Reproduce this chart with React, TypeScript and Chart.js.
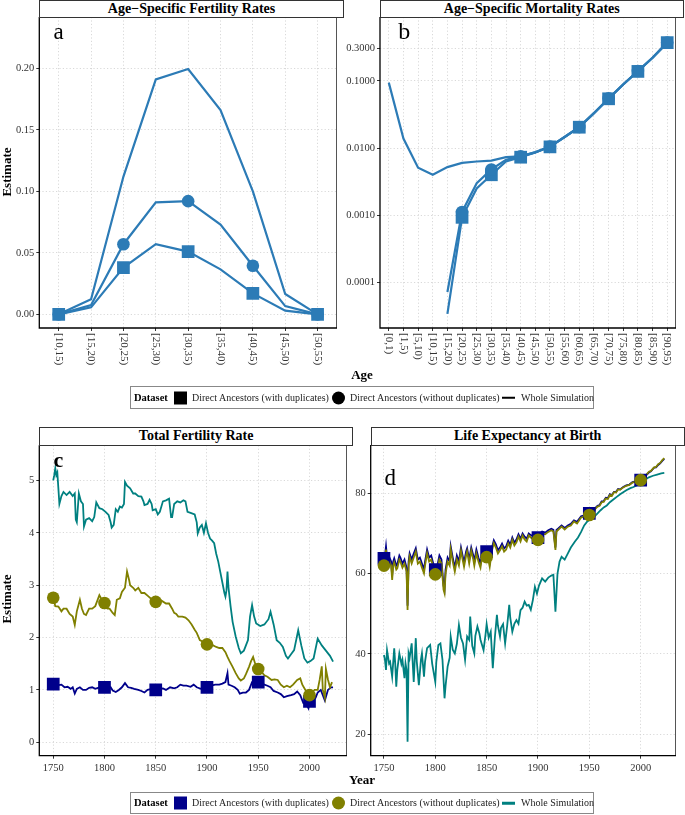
import { useEffect, useRef } from 'react';
import { Chart, registerables } from 'chart.js';

Chart.register(...registerables);

const SERIF = "'Liberation Serif', 'DejaVu Serif', serif";
const BLUE = '#2c7bb6';
const NAVY = '#00008b';
const OLIVE = '#808000';
const TEAL = '#008080';

// a: age-specific fertility rates
const fertAges = ['[10,15)', '[15,20)', '[20,25)', '[25,30)', '[30,35)', '[35,40)', '[40,45)', '[45,50)', '[50,55)'];
const asfrWithDup = [0, 0.0057, 0.038, 0.057, 0.051, 0.0366, 0.017, 0.003, 0];
const asfrNoDup = [0, 0.0075, 0.057, 0.091, 0.092, 0.073, 0.0395, 0.0067, 0];
const asfrWhole = [0, 0.0122, 0.112, 0.191, 0.1994, 0.166, 0.1, 0.0165, 0];
const asfrTicks = [0, 0.05, 0.1, 0.15, 0.2];

// b: age-specific mortality rates
const mortAges = ['[0,1)', '[1,5)', '[5,10)', '[10,15)', '[15,20)', '[20,25)', '[25,30)', '[30,35)', '[35,40)', '[40,45)',
  '[45,50)', '[50,55)', '[55,60)', '[60,65)', '[65,70)', '[70,75)', '[75,80)', '[80,85)', '[85,90)', '[90,95)'];
const asmrWithDup = [null, null, null, null, 0.000034, 0.00093, 0.0025, 0.004, 0.0063, 0.0073,
  0.0086, 0.0104, 0.0146, 0.0204, 0.033, 0.054, 0.088, 0.138, 0.22, 0.37];
const asmrNoDup = [null, null, null, null, 0.000072, 0.00112, 0.003, 0.0048, 0.0067, 0.0075,
  0.0087, 0.0105, 0.0146, 0.0206, 0.033, 0.055, 0.089, 0.14, 0.22, 0.37];
const asmrWhole = [0.094, 0.0138, 0.0051, 0.004, 0.0052, 0.006, 0.0063, 0.0065, 0.0073, 0.0075,
  0.0086, 0.0105, 0.0146, 0.0205, 0.033, 0.054, 0.088, 0.14, 0.22, 0.37];
const asmrTicks = [0.0001, 0.001, 0.01, 0.1, 0.3];

// c: total fertility rate [year, value]
const tfrWithDup: [number, number][] = [
  [1750, 1.11], [1753, 1.08], [1755, 1.09], [1758, 1.1], [1761, 1.05], [1764, 1.06], [1767, 1.02], [1769, 1.05],
  [1771, 0.93], [1773, 1.02], [1776, 1.05], [1779, 1.0], [1782, 1.0], [1785, 1.04], [1788, 1.05], [1791, 1.02],
  [1795, 1.05], [1798, 1.06], [1800, 1.05], [1803, 1.02], [1806, 1.05], [1808, 0.99], [1811, 0.96], [1814, 1.0],
  [1817, 1.05], [1820, 1.13], [1823, 1.05], [1826, 1.04], [1829, 1.02], [1833, 1.0], [1836, 0.98], [1839, 0.95],
  [1842, 1.0], [1846, 1.02], [1850, 1.0], [1853, 1.02], [1857, 1.03], [1860, 1.0], [1864, 1.05], [1868, 1.03],
  [1871, 1.05], [1874, 1.1], [1877, 1.08], [1880, 1.08], [1884, 1.06], [1887, 1.1], [1890, 1.05], [1894, 1.02],
  [1897, 1.05], [1900, 1.05], [1904, 1.08], [1908, 1.1], [1912, 1.1], [1915, 1.12], [1918, 1.15], [1920, 1.32],
  [1921, 1.1], [1924, 1.08], [1927, 1.05], [1930, 1.0], [1932, 0.93], [1935, 0.95], [1938, 0.95], [1941, 1.0],
  [1944, 1.15], [1947, 1.2], [1950, 1.15], [1953, 1.12], [1956, 1.1], [1959, 1.08], [1962, 1.05], [1965, 0.98],
  [1969, 0.95], [1972, 0.92], [1975, 0.86], [1978, 0.88], [1982, 0.9], [1985, 0.92], [1988, 0.97], [1991, 0.9],
  [1994, 0.75], [1997, 0.72], [1999, 0.65], [2000, 0.78], [2003, 0.8], [2006, 0.85], [2008, 0.95], [2011, 1.0],
  [2013, 0.9], [2015, 0.8], [2018, 1.0], [2021, 1.05], [2023, 1.05],
];
const tfrNoDup: [number, number][] = [
  [1750, 2.76], [1752, 2.6], [1755, 2.59], [1758, 2.5], [1760, 2.55], [1763, 2.55], [1766, 2.45], [1769, 2.4],
  [1771, 2.24], [1773, 2.5], [1776, 2.72], [1778, 2.55], [1780, 2.45], [1782, 2.43], [1785, 2.55], [1788, 2.55],
  [1791, 2.6], [1795, 2.81], [1798, 2.7], [1800, 2.66], [1803, 2.55], [1805, 2.55], [1808, 2.47], [1810, 2.43],
  [1812, 2.72], [1815, 2.75], [1817, 2.87], [1820, 2.95], [1822, 3.26], [1824, 3.1], [1825, 3.0], [1828, 2.95],
  [1830, 2.9], [1833, 2.95], [1836, 2.85], [1839, 2.85], [1842, 2.8], [1845, 2.75], [1848, 2.65], [1850, 2.68],
  [1853, 2.72], [1856, 2.7], [1860, 2.65], [1863, 2.65], [1866, 2.55], [1868, 2.47], [1870, 2.45], [1872, 2.4],
  [1876, 2.4], [1879, 2.38], [1882, 2.33], [1885, 2.25], [1888, 2.15], [1890, 2.09], [1893, 1.95], [1896, 1.92],
  [1900, 1.87], [1903, 1.85], [1906, 1.85], [1909, 1.82], [1912, 1.8], [1915, 1.8], [1918, 1.72], [1920, 1.63],
  [1922, 1.55], [1925, 1.44], [1928, 1.32], [1931, 1.22], [1933, 1.18], [1936, 1.22], [1938, 1.3], [1941, 1.44],
  [1943, 1.55], [1945, 1.63], [1947, 1.5], [1950, 1.4], [1953, 1.35], [1956, 1.28], [1959, 1.25], [1963, 1.19],
  [1966, 1.2], [1969, 1.19], [1972, 1.1], [1975, 1.05], [1978, 1.08], [1981, 1.05], [1984, 1.1], [1988, 1.19],
  [1991, 1.22], [1993, 1.1], [1996, 1.0], [1998, 0.95], [2000, 0.9], [2002, 0.95], [2005, 1.0], [2008, 1.0],
  [2010, 1.2], [2012, 1.45], [2013, 1.0], [2015, 0.85], [2016, 1.4], [2018, 1.2], [2020, 1.05], [2022, 1.15],
];
const tfrWhole: [number, number][] = [
  [1750, 5.0], [1751, 5.1], [1752, 5.23], [1753, 5.1], [1754, 5.15], [1756, 4.55], [1758, 4.7], [1760, 4.78],
  [1763, 4.72], [1766, 4.78], [1769, 4.7], [1771, 4.75], [1772, 4.25], [1773, 4.2], [1775, 4.75], [1777, 4.6],
  [1779, 4.55], [1780, 4.12], [1782, 4.25], [1785, 4.28], [1788, 4.22], [1790, 4.3], [1792, 4.58], [1795, 4.47],
  [1798, 4.45], [1801, 4.4], [1804, 4.34], [1806, 4.2], [1807, 4.1], [1809, 4.15], [1811, 4.45], [1813, 4.4],
  [1815, 4.5], [1817, 4.48], [1819, 4.55], [1820, 4.97], [1822, 4.9], [1825, 4.85], [1828, 4.75], [1830, 4.75],
  [1833, 4.7], [1836, 4.69], [1838, 4.6], [1839, 4.53], [1842, 4.55], [1844, 4.63], [1846, 4.55], [1847, 4.43],
  [1850, 4.45], [1852, 4.35], [1854, 4.4], [1857, 4.6], [1860, 4.62], [1863, 4.65], [1865, 4.3], [1866, 4.3],
  [1868, 4.55], [1871, 4.6], [1874, 4.58], [1877, 4.62], [1879, 4.6], [1881, 4.4], [1884, 4.38], [1888, 4.35],
  [1890, 4.2], [1891, 3.99], [1893, 4.1], [1895, 4.15], [1897, 4.0], [1899, 4.18], [1901, 4.0], [1903, 3.89],
  [1905, 3.85], [1907, 3.8], [1909, 3.6], [1911, 3.45], [1913, 3.25], [1915, 3.05], [1917, 2.85], [1918, 2.78],
  [1919, 2.9], [1920, 3.26], [1921, 2.95], [1923, 2.6], [1925, 2.3], [1928, 2.02], [1931, 1.8], [1933, 1.7],
  [1936, 1.75], [1938, 1.85], [1940, 1.95], [1942, 2.4], [1944, 2.62], [1946, 2.4], [1948, 2.27], [1952, 2.22],
  [1956, 2.25], [1960, 2.35], [1962, 2.49], [1965, 2.25], [1968, 1.95], [1971, 1.9], [1974, 1.82], [1977, 1.65],
  [1979, 1.6], [1982, 1.68], [1985, 1.76], [1989, 2.14], [1992, 1.85], [1995, 1.6], [1998, 1.52], [2001, 1.55],
  [2004, 1.6], [2008, 1.98], [2012, 1.85], [2016, 1.75], [2020, 1.65], [2023, 1.54],
];
const tfrTicks = [0, 1, 2, 3, 4, 5];

// d: life expectancy at birth [year, value]
const e0WithDup: [number, number][] = [
  [1750, 63.8], [1751, 64.5], [1752, 66.8], [1753, 64.0], [1755, 64.2], [1757, 63.0], [1758, 59.5], [1759, 63.0],
  [1760, 63.8], [1762, 62.0], [1763, 62.3], [1765, 64.5], [1766, 64.0], [1768, 62.5], [1770, 63.5], [1772, 61.5],
  [1773, 52.0], [1774, 63.0], [1775, 65.0], [1777, 63.5], [1779, 65.0], [1781, 66.3], [1783, 63.5], [1785, 64.0],
  [1787, 62.5], [1789, 61.0], [1790, 63.0], [1792, 66.0], [1794, 64.0], [1796, 64.5], [1798, 62.5], [1800, 61.0],
  [1802, 62.0], [1804, 64.5], [1806, 63.5], [1808, 57.0], [1809, 56.0], [1810, 61.0], [1812, 64.0], [1814, 63.0],
  [1815, 66.8], [1817, 64.0], [1819, 61.5], [1821, 64.5], [1823, 63.0], [1825, 66.5], [1827, 64.0], [1828, 62.7],
  [1830, 65.5], [1831, 66.3], [1833, 63.5], [1835, 66.5], [1837, 64.5], [1838, 63.0], [1840, 66.0], [1842, 64.0],
  [1844, 62.5], [1846, 66.0], [1848, 65.5], [1850, 65.5], [1852, 64.0], [1853, 62.7], [1855, 66.3], [1857, 68.3],
  [1859, 67.3], [1861, 65.8], [1863, 66.5], [1865, 67.5], [1867, 66.3], [1869, 66.8], [1871, 68.2], [1873, 67.2],
  [1875, 69.0], [1877, 67.7], [1879, 68.5], [1881, 69.8], [1883, 68.7], [1885, 70.0], [1887, 69.2], [1889, 68.7],
  [1891, 70.0], [1893, 69.6], [1896, 69.2], [1900, 69.0], [1902, 70.0], [1904, 70.5], [1907, 70.2], [1910, 70.8],
  [1913, 71.2], [1915, 70.9], [1917, 66.5], [1918, 70.9], [1920, 71.3], [1923, 72.0], [1926, 71.4], [1929, 72.0],
  [1932, 72.4], [1935, 73.3], [1938, 72.9], [1942, 74.3], [1946, 74.6], [1950, 75.0], [1952, 75.5], [1954, 75.3],
  [1956, 76.4], [1958, 76.9], [1960, 77.1], [1962, 78.0], [1964, 78.1], [1966, 78.9], [1968, 78.8], [1970, 79.8],
  [1972, 79.6], [1974, 80.4], [1976, 80.4], [1978, 81.1], [1980, 81.0], [1983, 81.6], [1986, 82.0], [1989, 82.2],
  [1992, 82.8], [1995, 83.0], [1998, 83.4], [2000, 83.3], [2003, 84.0], [2006, 84.7], [2008, 85.2], [2010, 85.5],
  [2013, 86.4], [2015, 86.5], [2017, 87.1], [2019, 87.5], [2021, 88.1], [2023, 88.6],
];
const e0NoDup: [number, number][] = [
  [1750, 62.0], [1751, 63.5], [1752, 66.0], [1753, 63.0], [1755, 63.4], [1757, 62.0], [1758, 58.4], [1759, 62.0],
  [1760, 62.8], [1762, 61.0], [1763, 61.3], [1765, 63.5], [1766, 63.0], [1768, 61.5], [1770, 62.5], [1772, 60.5],
  [1773, 50.9], [1774, 62.0], [1775, 64.2], [1777, 62.5], [1779, 64.0], [1781, 65.5], [1783, 62.5], [1785, 63.0],
  [1787, 61.5], [1789, 60.1], [1790, 62.0], [1792, 65.1], [1794, 63.0], [1796, 63.5], [1798, 61.5], [1800, 59.8],
  [1802, 61.0], [1804, 63.5], [1806, 62.5], [1808, 56.0], [1809, 55.1], [1810, 60.0], [1812, 63.0], [1814, 62.0],
  [1815, 66.0], [1817, 63.0], [1819, 60.5], [1821, 63.5], [1823, 62.0], [1825, 65.7], [1827, 63.0], [1828, 61.7],
  [1830, 64.5], [1831, 65.5], [1833, 62.5], [1835, 65.7], [1837, 63.5], [1838, 62.0], [1840, 65.0], [1842, 63.0],
  [1844, 61.5], [1846, 65.0], [1848, 64.5], [1850, 64.1], [1852, 63.0], [1853, 61.7], [1855, 65.5], [1857, 67.6],
  [1859, 66.5], [1861, 65.0], [1863, 65.8], [1865, 66.8], [1867, 65.5], [1869, 66.0], [1871, 67.5], [1873, 66.5],
  [1875, 68.4], [1877, 67.0], [1879, 67.8], [1881, 69.2], [1883, 68.0], [1885, 69.5], [1887, 68.5], [1889, 68.0],
  [1891, 69.5], [1893, 69.0], [1896, 68.5], [1900, 68.4], [1902, 69.5], [1904, 70.0], [1907, 69.8], [1910, 70.4],
  [1913, 70.8], [1915, 70.5], [1917, 65.9], [1918, 70.5], [1920, 71.0], [1923, 71.7], [1926, 71.0], [1929, 71.7],
  [1932, 72.0], [1935, 73.0], [1938, 72.5], [1942, 74.0], [1946, 74.2], [1950, 74.6], [1952, 75.3], [1954, 75.0],
  [1956, 76.2], [1958, 76.7], [1960, 76.9], [1962, 77.8], [1964, 77.9], [1966, 78.7], [1968, 78.6], [1970, 79.6],
  [1972, 79.4], [1974, 80.3], [1976, 80.2], [1978, 81.0], [1980, 80.9], [1983, 81.5], [1986, 81.9], [1989, 82.1],
  [1992, 82.7], [1995, 82.9], [1998, 83.4], [2000, 83.3], [2003, 84.1], [2006, 84.8], [2008, 85.4], [2010, 85.6],
  [2013, 86.5], [2015, 86.6], [2017, 87.3], [2019, 87.6], [2021, 88.3], [2023, 88.8],
];
const e0Whole: [number, number][] = [
  [1750, 39.7], [1751, 38.5], [1752, 36.0], [1753, 40.9], [1755, 37.6], [1756, 38.0], [1758, 34.3], [1760, 41.4],
  [1761, 37.5], [1762, 31.8], [1763, 36.0], [1765, 40.1], [1767, 37.5], [1768, 38.5], [1770, 33.9], [1771, 37.6],
  [1772, 36.0], [1773, 18.1], [1774, 40.1], [1775, 39.0], [1777, 42.6], [1779, 33.0], [1781, 43.9], [1782, 38.0],
  [1784, 32.2], [1786, 38.5], [1787, 40.1], [1789, 34.3], [1790, 38.0], [1792, 41.4], [1795, 42.2], [1797, 37.5],
  [1800, 33.0], [1801, 38.0], [1803, 42.2], [1805, 42.6], [1807, 38.5], [1809, 28.9], [1810, 32.0], [1812, 36.8],
  [1814, 39.0], [1815, 44.3], [1817, 41.0], [1819, 40.1], [1821, 42.5], [1823, 47.2], [1825, 44.0], [1827, 42.6],
  [1829, 38.5], [1831, 44.3], [1833, 43.5], [1834, 49.3], [1836, 42.0], [1838, 40.1], [1839, 44.5], [1841, 46.8],
  [1843, 45.0], [1844, 43.5], [1847, 40.9], [1849, 45.0], [1850, 47.4], [1852, 44.0], [1854, 45.5], [1856, 36.4],
  [1858, 44.0], [1860, 49.7], [1861, 47.0], [1863, 44.3], [1864, 46.5], [1866, 47.4], [1868, 42.6], [1870, 47.0],
  [1872, 52.2], [1873, 49.0], [1875, 45.5], [1877, 47.5], [1879, 48.4], [1881, 47.5], [1883, 50.9], [1885, 51.5],
  [1887, 53.0], [1889, 52.0], [1891, 52.2], [1893, 51.0], [1895, 53.4], [1897, 56.7], [1899, 55.0], [1901, 57.0],
  [1904, 58.8], [1907, 58.0], [1910, 59.0], [1913, 59.5], [1915, 59.7], [1917, 50.5], [1919, 60.0], [1921, 63.0],
  [1923, 64.2], [1926, 63.5], [1929, 65.0], [1932, 66.5], [1936, 68.0], [1939, 69.0], [1942, 70.4], [1945, 72.0],
  [1948, 73.0], [1951, 73.5], [1955, 74.2], [1958, 75.0], [1961, 75.8], [1964, 76.5], [1967, 77.0], [1970, 77.8],
  [1974, 78.6], [1977, 79.2], [1980, 79.8], [1983, 80.3], [1986, 80.8], [1990, 81.3], [1993, 81.6], [1996, 82.0],
  [1999, 82.4], [2002, 83.0], [2005, 83.5], [2008, 84.0], [2012, 84.4], [2016, 84.7], [2020, 85.0], [2023, 85.1],
];
const e0Ticks = [20, 40, 60, 80];

const yearTicks = [1750, 1800, 1850, 1900, 1950, 2000];
const markerYears = [1750, 1800, 1850, 1900, 1950, 2000];

type Area = { l: number; r: number; t: number; b: number };
type Box = { left: number; top: number; width: number; height: number };

const tickFont = { family: SERIF, size: 10.5 };
const grid = { color: '#cfcfcf', lineWidth: 0.8, tickColor: '#333', tickLength: 3, tickWidth: 1 };
const border = { display: false, dash: [1.2, 2.2] };

function framePlugin(box: Box, letter: string, letterFont: string, lx: number, ly: number, rotLabels?: string[]) {
  return {
    id: 'frame',
    afterDraw(chart: any) {
      const { ctx, chartArea: a } = chart;
      ctx.save();
      ctx.strokeStyle = '#555';
      ctx.lineWidth = 1;
      ctx.beginPath();
      ctx.moveTo(a.right - 0.5, a.top);
      ctx.lineTo(a.right - 0.5, a.bottom);
      ctx.stroke();
      ctx.strokeStyle = '#000';
      ctx.lineWidth = 1.3;
      ctx.beginPath();
      ctx.moveTo(a.left, a.top);
      ctx.lineTo(a.left, a.bottom);
      ctx.lineTo(a.right, a.bottom);
      ctx.stroke();
      ctx.fillStyle = '#000';
      ctx.font = letterFont;
      ctx.textAlign = 'center';
      ctx.textBaseline = 'alphabetic';
      ctx.fillText(letter, lx - box.left, ly - box.top);
      if (rotLabels) {
        const xs = chart.scales.x;
        ctx.font = `11px ${SERIF}`;
        ctx.fillStyle = '#333';
        ctx.textAlign = 'left';
        ctx.textBaseline = 'middle';
        rotLabels.forEach((lab, i) => {
          ctx.save();
          ctx.translate(xs.getPixelForValue(i), a.bottom + 5);
          ctx.rotate(Math.PI / 2);
          ctx.fillText(lab, 0, 0);
          ctx.restore();
        });
      }
      ctx.restore();
    },
  };
}

function baseOptions(box: Box, area: Area, x: any, y: any) {
  return {
    responsive: true,
    maintainAspectRatio: false,
    animation: false as const,
    events: [],
    layout: { padding: { top: area.t - box.top, right: box.left + box.width - area.r, left: 0, bottom: 0 } },
    plugins: { legend: { display: false }, tooltip: { enabled: false } },
    scales: {
      x: { ...x, afterFit: (s: any) => { s.height = box.top + box.height - area.b; }, grid, border },
      y: { ...y, afterFit: (s: any) => { s.width = area.l - box.left; }, grid, border },
    },
  };
}

const line = (data: any[], color: string, width: number, order: number) => ({
  data, borderColor: color, borderWidth: width, pointRadius: 0, tension: 0, fill: false, order,
});
const marks = (data: any[], color: string, style: string, order: number) => ({
  data, showLine: false, pointStyle: style, pointRadius: style === 'rect' ? 9 : 6.3,
  pointBackgroundColor: color, pointBorderWidth: 0, backgroundColor: color, borderColor: color, order,
});

const idx = (arr: (number | null)[]) => arr.map((y, x) => ({ x, y }));
const idxMarks = (arr: (number | null)[], parity: number) =>
  idx(arr).filter((p) => p.y != null && p.x % 2 === parity);
const yr = (arr: [number, number][]) => arr.map(([x, y]) => ({ x, y }));
const yrMarks = (arr: [number, number][]) => yr(arr).filter((p) => markerYears.includes(p.x));

const boxA: Box = { left: 0, top: 7, width: 346, height: 371 };
const areaA: Area = { l: 39.3, r: 343.8, t: 17, b: 328 };
const boxB: Box = { left: 342, top: 7, width: 343, height: 371 };
const areaB: Area = { l: 380, r: 683.3, t: 17, b: 328 };
const boxC: Box = { left: 0, top: 435, width: 356, height: 345 };
const areaC: Area = { l: 39.3, r: 353, t: 445.3, b: 755.7 };
const boxD: Box = { left: 345, top: 435, width: 340, height: 345 };
const areaD: Area = { l: 370.7, r: 684, t: 445, b: 755.7 };

function configA() {
  return {
    type: 'line' as const,
    data: {
      datasets: [
        marks(idxMarks(asfrNoDup, 0), BLUE, 'circle', 1),
        marks(idxMarks(asfrWithDup, 0), BLUE, 'rect', 2),
        line(idx(asfrWhole), BLUE, 2.2, 3),
        line(idx(asfrNoDup), BLUE, 2.2, 4),
        line(idx(asfrWithDup), BLUE, 2.2, 5),
      ],
    },
    options: baseOptions(boxA, areaA,
      {
        type: 'linear', min: -0.6, max: fertAges.length - 0.4, ticks: { display: false },
        afterBuildTicks: (s: any) => { s.ticks = fertAges.map((_, i) => ({ value: i })); },
      },
      {
        type: 'linear', min: -0.0111, max: 0.2417,
        afterBuildTicks: (s: any) => { s.ticks = asfrTicks.map((v) => ({ value: v })); },
        ticks: { font: tickFont, color: '#333', padding: 2, autoSkip: false, callback: (v: any) => Number(v).toFixed(2) },
      }),
    plugins: [framePlugin(boxA, 'a', `23px ${SERIF}`, 58.5, 39.3, fertAges)],
  };
}

function configB() {
  return {
    type: 'line' as const,
    data: {
      datasets: [
        marks(idxMarks(asmrNoDup, 1), BLUE, 'circle', 1),
        marks(idxMarks(asmrWithDup, 1), BLUE, 'rect', 2),
        line(idx(asmrWhole), BLUE, 2.2, 3),
        line(idx(asmrNoDup), BLUE, 2.2, 4),
        line(idx(asmrWithDup), BLUE, 2.2, 5),
      ],
    },
    options: baseOptions(boxB, areaB,
      {
        type: 'linear', min: -0.6, max: mortAges.length - 0.4, ticks: { display: false },
        afterBuildTicks: (s: any) => { s.ticks = mortAges.map((_, i) => ({ value: i })); },
      },
      {
        type: 'logarithmic', min: 0.000021, max: 0.89,
        afterBuildTicks: (s: any) => { s.ticks = asmrTicks.map((v) => ({ value: v })); },
        ticks: { font: tickFont, color: '#333', padding: 2, autoSkip: false, callback: (v: any) => Number(v).toFixed(4) },
      }),
    plugins: [framePlugin(boxB, 'b', `24px ${SERIF}`, 404.2, 39.3, mortAges)],
  };
}

function timeConfig(box: Box, area: Area, withDup: [number, number][], noDup: [number, number][],
  whole: [number, number][], ymin: number, ymax: number, yTicks: number[], xmin: number, xmax: number,
  letter: string, font: string, lx: number, ly: number) {
  return {
    type: 'line' as const,
    data: {
      datasets: [
        marks(yrMarks(noDup), OLIVE, 'circle', 1),
        marks(yrMarks(withDup), NAVY, 'rect', 2),
        line(yr(whole), TEAL, 1.8, 3),
        line(yr(noDup), OLIVE, 1.8, 4),
        line(yr(withDup), NAVY, 1.8, 5),
      ],
    },
    options: baseOptions(box, area,
      {
        type: 'linear', min: xmin, max: xmax,
        afterBuildTicks: (s: any) => { s.ticks = yearTicks.map((v) => ({ value: v })); },
        ticks: { font: tickFont, color: '#333', padding: 3, autoSkip: false, maxRotation: 0, callback: (v: any) => String(v) },
      },
      {
        type: 'linear', min: ymin, max: ymax,
        afterBuildTicks: (s: any) => { s.ticks = yTicks.map((v) => ({ value: v })); },
        ticks: { font: tickFont, color: '#333', padding: 2, autoSkip: false, callback: (v: any) => String(v) },
      }),
    plugins: [framePlugin(box, letter, font, lx, ly)],
  };
}

function Panel({ box, make }: { box: Box; make: () => any }) {
  const ref = useRef<HTMLCanvasElement>(null);
  useEffect(() => {
    if (!ref.current) return;
    const chart = new Chart(ref.current, make());
    return () => chart.destroy();
  }, []);
  return (
    <div style={{ position: 'absolute', left: box.left, top: box.top, width: box.width, height: box.height }}>
      <canvas ref={ref} />
    </div>
  );
}

function Strip({ left, top, width, height, text }: { left: number; top: number; width: number; height: number; text: string }) {
  return (
    <div style={{
      position: 'absolute', left, top, width, height, boxSizing: 'border-box', border: '1px solid #333',
      background: '#fff', textAlign: 'center', fontWeight: 'bold', fontSize: 14, lineHeight: `${height - 2}px`,
      whiteSpace: 'nowrap',
    }}>{text}</div>
  );
}

function Legend({ top, height, colors }: { top: number; height: number; colors: string[] }) {
  const item: any = { position: 'absolute', top: '50%', transform: 'translateY(-50%)', whiteSpace: 'nowrap', lineHeight: 1 };
  return (
    <div style={{
      position: 'absolute', left: 130, top, width: 464, height, boxSizing: 'border-box',
      border: '1px solid #888', fontSize: 10, color: '#222',
    }}>
      <span style={{ ...item, left: 3, fontWeight: 'bold', fontSize: 10.5, color: '#000' }}>Dataset</span>
      <span style={{ ...item, left: 43, width: 13, height: 13, background: colors[0] }} />
      <span style={{ ...item, left: 61 }}>Direct Ancestors (with duplicates)</span>
      <span style={{ ...item, left: 201, width: 13, height: 13, borderRadius: '50%', background: colors[1] }} />
      <span style={{ ...item, left: 219 }}>Direct Ancestors (without duplicates)</span>
      <span style={{ ...item, left: 371, width: 13, height: 2.5, background: colors[2] }} />
      <span style={{ ...item, left: 390 }}>Whole Simulation</span>
    </div>
  );
}

function Label({ x, y, text, rotate, size }: { x: number; y: number; text: string; rotate?: boolean; size: number }) {
  return (
    <div style={{
      position: 'absolute', left: x, top: y, fontWeight: 'bold', fontSize: size, lineHeight: 1, whiteSpace: 'nowrap',
      transform: `translate(-50%, -50%)${rotate ? ' rotate(-90deg)' : ''}`,
    }}>{text}</div>
  );
}

export default function App() {
  return (
    <div style={{
      position: 'absolute', left: 0, top: 0, width: 685, height: 815, background: '#fff', overflow: 'hidden',
      fontFamily: SERIF, color: '#000',
    }}>
      <Panel box={boxA} make={configA} />
      <Panel box={boxB} make={configB} />
      <Panel box={boxC} make={() => timeConfig(boxC, areaC, tfrWithDup, tfrNoDup, tfrWhole, -0.256, 5.67, tfrTicks,
        1736.4, 2036.6, 'c', `bold 22px ${SERIF}`, 58.3, 467)} />
      <Panel box={boxD} make={() => timeConfig(boxD, areaD, e0WithDup, e0NoDup, e0Whole, 14.59, 92.07, e0Ticks,
        1737.1, 2034.4, 'd', `23px ${SERIF}`, 390.2, 485)} />
      <Strip left={39.3} top={0} width={304.5} height={17.5} text="Age−Specific Fertility Rates" />
      <Strip left={379.5} top={0} width={304.5} height={17.5} text="Age−Specific Mortality Rates" />
      <Strip left={39.3} top={427} width={313.7} height={18.5} text="Total Fertility Rate" />
      <Strip left={370.7} top={427} width={314} height={18.5} text="Life Expectancy at Birth" />
      <Label x={5.5} y={172} text="Estimate" rotate size={13} />
      <Label x={5.5} y={599} text="Estimate" rotate size={13} />
      <Label x={362} y={374} text="Age" size={13} />
      <Label x={362} y={779} text="Year" size={13} />
      <Legend top={386} height={23} colors={['#000', '#000', '#000']} />
      <Legend top={792} height={22} colors={[NAVY, OLIVE, TEAL]} />
    </div>
  );
}
